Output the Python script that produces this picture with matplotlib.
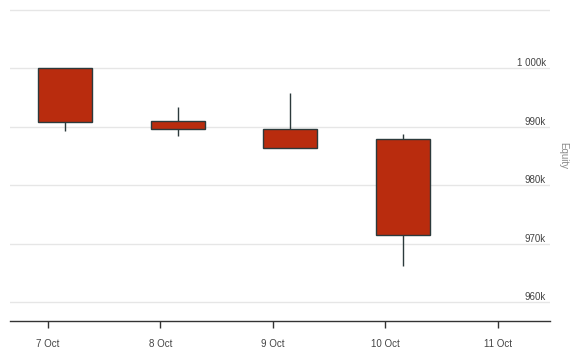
import matplotlib.pyplot as plt
import matplotlib.dates as mdates
import matplotlib.ticker as mticker
import pandas as pd

plt.rcParams["font.family"] = ["Liberation Sans", "DejaVu Sans"]

# Daily equity candles (values in thousands)
times = ["2024-10-07 03:43", "2024-10-08 03:43", "2024-10-09 03:43", "2024-10-10 03:43"]
opens = [1000.0, 990.99, 989.57, 987.86]
highs = [1000.0, 993.3, 995.78, 988.77]
lows = [989.33, 988.48, 986.32, 966.26]
closes = [990.77, 989.57, 986.32, 971.45]

y_ticks = [960, 970, 980, 990, 1000, 1010]
x_ticks = ["2024-10-07", "2024-10-08", "2024-10-09", "2024-10-10", "2024-10-11"]

x = mdates.date2num(pd.to_datetime(times))
xt = mdates.date2num(pd.to_datetime(x_ticks))

fig = plt.figure(figsize=(5.8, 3.6), dpi=100)
ax = fig.add_axes([10 / 580, 39 / 360, 540 / 580, 316 / 360])

up_col = "#b92c0e"
edge = "#2c3a3c"

ax.vlines(x, lows, highs, color=edge, lw=1, zorder=2)
bottoms = [min(o, c) for o, c in zip(opens, closes)]
heights = [abs(o - c) for o, c in zip(opens, closes)]
ax.bar(x, heights, bottom=bottoms, width=0.48, color=up_col,
       edgecolor=edge, linewidth=1, zorder=3)

ax.set_ylim(956.8, 1010.8)
ax.set_xlim(xt[0] - 0.334, xt[0] + 4.462)

ax.set_yticks(y_ticks)
ax.yaxis.set_major_formatter(mticker.FuncFormatter(
    lambda v, p: f"{v:,.0f}k".replace(",", " ") if v < 1010 else ""))
ax.yaxis.tick_right()
ax.tick_params(axis="y", length=0, pad=-3, labelsize=7, labelcolor="#444444")
for lab in ax.get_yticklabels():
    lab.set_horizontalalignment("right")
    lab.set_verticalalignment("bottom")
ax.grid(axis="y", color="#e6e6e6", lw=1, zorder=0)
ax.set_axisbelow(True)

ax.set_xticks(xt)
ax.set_xticklabels([f"{d.day} Oct" for d in pd.to_datetime(x_ticks)])
ax.tick_params(axis="x", length=5, width=1, color="#333333", pad=8,
               labelsize=7, labelcolor="#444444")

for s in ["top", "left", "right"]:
    ax.spines[s].set_visible(False)
ax.spines["bottom"].set_color("#333333")
ax.spines["bottom"].set_linewidth(1)

fig.text(563 / 580, 1 - 155 / 360, "Equity", rotation=270, ha="center",
         va="center", fontsize=7, color="#888888")

fig.savefig("out.png", dpi=100)
